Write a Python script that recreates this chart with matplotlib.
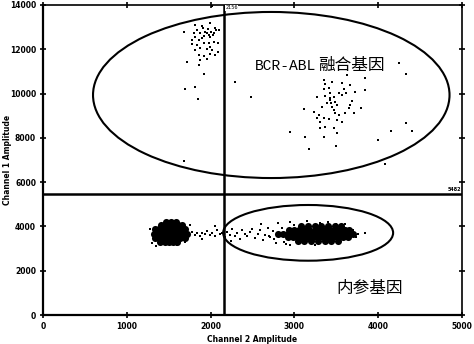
import matplotlib
matplotlib.use("Agg")
import matplotlib.pyplot as plt
from matplotlib.patches import Ellipse

# ---- data (Channel 2 amplitude, Channel 1 amplitude) ----
# BCR-ABL positive droplets, upper-left group
grpA_x = [1685, 1808, 1896, 1996, 2055, 2095, 1836, 1876, 1936, 1956, 1976, 1996, 1924, 2035,
          1816, 1856, 1896, 1777, 1836, 1916, 1976, 2035, 2083, 1876, 1956, 2016, 1816, 1856,
          1924, 1987, 2055, 2083, 1876, 1956, 1864, 1724, 1924, 2067, 2004, 2023, 1796, 1904,
          1964, 1784, 1987, 1697, 1808, 1844, 1681, 2020, 2286]
grpA_y = [12767, 13097, 13051, 13173, 12947, 12871, 12871, 12720, 12796, 12720, 12645, 12570,
          12600, 12720, 12540, 12419, 12494, 12223, 12193, 12269, 12298, 12343, 12298, 12043,
          11998, 11967, 11967, 11741, 11696, 11787, 11741, 11891, 11515, 11546, 11290, 11440,
          10870, 12871, 12796, 12645, 12720, 12947, 12901, 12419, 12118, 10193, 10310, 9768,
          6968, 13955, 10536]
# BCR-ABL positive droplets, right group
grpB_x = [3629, 3362, 3450, 3410, 3350, 3669, 3589, 3621, 3529, 3430, 3370, 3469, 3569, 3271,
          3728, 3848, 3430, 3489, 3390, 3510, 3689, 3669, 3648, 3450, 3469, 3489, 3529, 3331,
          3230, 3290, 3350, 3310, 3410, 3510, 3569, 3609, 3708, 3797, 3111, 3271, 3469, 3370,
          3310, 3510, 2952, 3131, 3358, 3171, 3498, 3995, 4147, 4326, 4406, 4326, 4246, 4087,
          3848, 3350, 3569, 3422, 3438, 2482]
grpB_y = [10838, 10432, 10537, 10236, 10191, 10387, 10191, 10040, 10010, 10010, 9890, 9860,
          9935, 9860, 10085, 10161, 9709, 9634, 9559, 9484, 9679, 9484, 9333, 9409, 9258, 9107,
          9032, 9409, 9183, 9032, 8881, 8731, 8836, 8806, 8731, 9107, 9137, 9333, 9288, 8881,
          8430, 8505, 8430, 8204, 8279, 8024, 8024, 7483, 7632, 7903, 8324, 8656, 8309, 10884,
          11394, 6819, 10688, 10613, 10462, 9785, 9559, 9831]
# dense negative-droplet core (left blob)
core1_x = [1320, 1370, 1420, 1470, 1520, 1570, 1620, 1670, 1720,
           1340, 1390, 1440, 1490, 1540, 1590, 1640, 1690,
           1340, 1390, 1440, 1490, 1540, 1590, 1640, 1690,
           1410, 1460, 1510, 1560, 1610, 1660,
           1400, 1450, 1500, 1550, 1600,
           1470, 1530, 1590]
core1_y = [3680] * 9 + [3870] * 8 + [3490] * 8 + [4050] * 6 + [3300] * 5 + [4200] * 3
# dense internal-reference core (right blob)
core2_x = [2800, 2860, 2920, 2980, 3040, 3100, 3160, 3220, 3280, 3340, 3400, 3460, 3520, 3580, 3640, 3700,
           2940, 3000, 3060, 3120, 3180, 3240, 3300, 3360, 3420, 3480, 3540, 3600, 3650,
           2920, 2980, 3040, 3100, 3160, 3220, 3280, 3340, 3400, 3460, 3520, 3580, 3640,
           3080, 3160, 3240, 3320, 3400, 3480, 3560,
           3040, 3120, 3200, 3280, 3360, 3440, 3520]
core2_y = [3680] * 16 + [3850] * 13 + [3510] * 13 + [4000] * 7 + [3360] * 7
# sparse droplets around/between the blobs
tail_x = [1780, 1810, 1840, 1870, 1900, 1930, 1960, 1990, 2020, 2050, 2080, 2110, 2140, 2170,
          2200, 2230, 2260, 2290, 2320, 2350, 2380, 2410, 2440, 2470, 2500, 2530, 2560, 2590,
          2620, 2650, 2680, 2710, 2240, 2050, 1900, 2600, 2800, 2950, 3150, 3400, 3600, 3848,
          2780, 2950, 3250, 1300, 1280, 1750, 1450, 1600, 1350, 1700, 1720, 2740, 2700, 2760,
          2850, 2880, 3000, 3700, 3740, 3760, 3300, 3500, 2900, 3050]
tail_y = [3750, 3620, 3700, 3580, 3720, 3650, 3800, 3600, 3700, 3550, 3850, 3640, 3720, 3500,
          3760, 3620, 3900, 3580, 3700, 3450, 3820, 3650, 3550, 3750, 3900, 3480, 3680, 3820,
          3400, 3600, 3950, 3520, 3350, 4000, 3450, 4100, 4150, 4200, 4250, 4180, 4100, 3717,
          3250, 3150, 3180, 3250, 3900, 4050, 4250, 3150, 3100, 3300, 3950, 3800, 3560, 3420,
          3950, 3300, 4080, 3850, 3500, 3650, 4150, 4120, 3200, 3250]

thr_x = 2156
thr_y = 5482
x_ticks = [0, 1000, 2000, 3000, 4000, 5000]
y_ticks = [0, 2000, 4000, 6000, 8000, 10000, 12000, 14000]
# ellipses: (center x, center y, width, height)
ell_big = (2724, 9935, 4254, 7500)
ell_small = (3164, 3710, 2028, 2516)

fig = plt.figure(figsize=(4.74, 3.44), dpi=100)
ax = fig.add_axes([0.0907, 0.0843, 0.884, 0.9012])
ax.set_xlim(0, 5000)
ax.set_ylim(0, 14000)

ax.scatter(core1_x, core1_y, s=26, marker='o', c='black', linewidths=0)
ax.scatter(core2_x, core2_y, s=26, marker='o', c='black', linewidths=0)
ax.scatter(tail_x, tail_y, s=1.8, marker='s', c='black', linewidths=0)
ax.scatter(grpA_x, grpA_y, s=1.8, marker='s', c='black', linewidths=0)
ax.scatter(grpB_x, grpB_y, s=1.8, marker='s', c='black', linewidths=0)

ax.axvline(thr_x, color='black', lw=1.8)
ax.axhline(thr_y, color='black', lw=1.8)
ax.text(thr_x + 20, 13980, str(thr_x), fontsize=3.5, va='top', ha='left',
        bbox=dict(facecolor='white', edgecolor='none', pad=0.3))
ax.text(4985, thr_y + 60, str(thr_y), fontsize=3.5, va='bottom', ha='right', fontweight='bold')

for cx, cy, w, h in (ell_big, ell_small):
    ax.add_patch(Ellipse((cx, cy), w, h, fill=False, edgecolor='black', lw=1.5))

ax.text(2533, 11258, "BCR-ABL", family='Liberation Mono', fontsize=10.5, va='center', ha='left')
ax.text(3286, 11258, "融合基因", family=['Noto Sans CJK SC', 'DejaVu Sans'], fontsize=12,
        va='center', ha='left')
ax.text(3500, 1219, "内参基因", family=['Noto Sans CJK SC', 'DejaVu Sans'], fontsize=12,
        va='center', ha='left')

ax.set_xticks(x_ticks)
ax.set_yticks(y_ticks)
ax.set_xticklabels([str(v) for v in x_ticks], fontsize=5.5, fontweight='bold')
ax.set_yticklabels([str(v) for v in y_ticks], fontsize=5.5, fontweight='bold')
ax.tick_params(axis='both', direction='inout', length=4, width=1.2, pad=3)
ax.tick_params(top=True, right=True)
for side in ('left', 'bottom'):
    ax.spines[side].set_linewidth(1.6)
for side in ('top', 'right'):
    ax.spines[side].set_linewidth(1.2)
ax.set_xlabel("Channel 2 Amplitude", fontsize=5.5, fontweight='bold', labelpad=3)
ax.set_ylabel("Channel 1 Amplitude", fontsize=5.5, fontweight='bold')
ax.yaxis.set_label_coords(-0.075, 0.5)

fig.savefig("out.png", dpi=100)
